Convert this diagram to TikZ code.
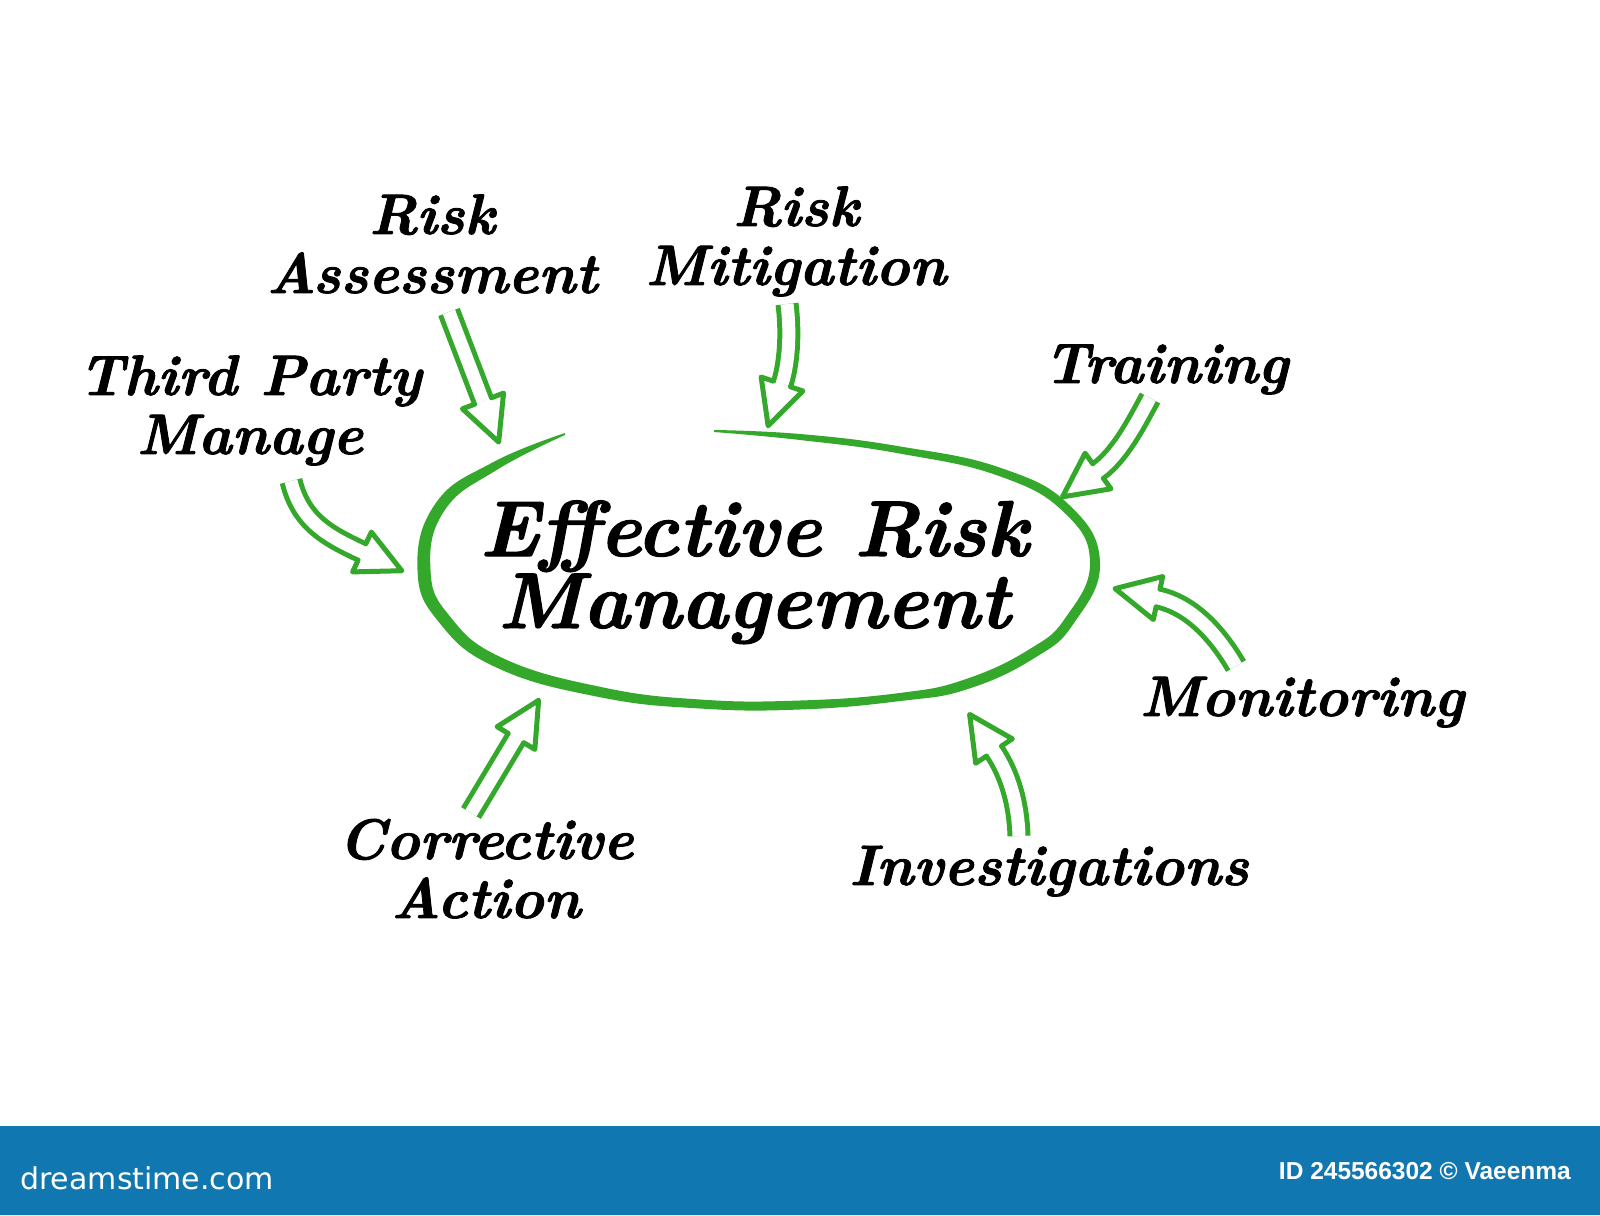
\documentclass[tikz,border=0pt]{standalone}
\usepackage{fontspec}
\usepackage{tikz}
\usetikzlibrary{decorations.markings}
\newfontfamily\handfont{lmroman10-bolditalic.otf}[FakeBold=1.5]
\newfontfamily\brandfont{DejaVu Sans}
\newfontfamily\creditfont{Liberation Sans}
\definecolor{penGreen}{RGB}{52,168,42}
\definecolor{barBlue}{RGB}{17,119,176}
\begin{document}
\begin{tikzpicture}[x=1pt, y=-1pt,
	hollow/.style={preaction={draw=penGreen, line width=5pt, double=white, double distance=13pt},
		decoration={markings, mark=at position 0.9999 with {\draw[penGreen, line width=5pt, fill=white, line join=round, line cap=round] (0pt,9pt) -- (0pt,22pt) -- (44pt,0pt) -- (0pt,-22pt) -- (0pt,-9pt);}},
		postaction={decorate}},
	topic/.style={font=\handfont\fontsize{57}{59}\selectfont, align=center, inner sep=0pt, anchor=base},
	hub/.style={font=\handfont\fontsize{79}{72}\selectfont, align=center, inner sep=0pt, anchor=base}]
	\useasboundingbox (0,0) rectangle (1600,1215);
	\fill[white] (0,0) rectangle (1600,1215);
	\fill[barBlue] (0,1126) rectangle (1600,1215);

	\fill[penGreen] plot[smooth, tension=0.75] coordinates {(714,430) (800,434) (900.5,446.5) (1001,468) (1069.7,505.4) (1100,563) (1074,623) (1035.5,657.4) (968.2,688.9) (900.5,701) (800,709.5) (700,708.5) (599,697) (497.5,668) (440,623.5) (417.5,570) (435.5,503.5) (492.5,462.5) (565,433)}
		-- plot[smooth, tension=0.75] coordinates {(565,435) (497.5,469.5) (444.5,510.5) (430.5,570) (450,616.5) (502.5,658) (601,687) (700,699.5) (800,700.5) (899.5,693) (965.8,679.1) (1030.5,648.6) (1066,617) (1090,563) (1064.3,512.6) (999,476) (899.5,453.5) (800,440) (714,432)} -- cycle;

	\node[hub] (Centre) at (754,628) {Effective Risk\\Management};
	\node[topic] (Assessment) at (432,293) {Risk\\Assessment};
	\node[topic] (Mitigation) at (796,285) {Risk\\Mitigation};
	\node[topic] (ThirdParty) at (250,454) {Third Party\\Manage};
	\node[topic] (Training) at (1166,383) {Training};
	\node[topic] (Monitoring) at (1302,716) {Monitoring};
	\node[topic] (Investigations) at (1049,885) {Investigations};
	\node[topic] (Corrective) at (486,918) {Corrective\\Action};

	\coordinate (AssessmentTail) at (449,312);
	\coordinate (AssessmentHead) at (483,401);
	\coordinate (ThirdPartyTail) at (291,481);
	\coordinate (ThirdPartyHead) at (362,552);
	\coordinate (MitigationTail) at (787,304);
	\coordinate (MitigationHead) at (782,384);
	\coordinate (TrainingTail) at (1150,398);
	\coordinate (TrainingHead) at (1098,471);
	\coordinate (MonitoringTail) at (1236,666);
	\coordinate (MonitoringHead) at (1158,598);
	\coordinate (InvestigationsTail) at (1019,836);
	\coordinate (InvestigationsHead) at (994,751);
	\coordinate (CorrectiveTail) at (471,813);
	\coordinate (CorrectiveHead) at (516,738);

	\path[hollow] (AssessmentTail) -- (AssessmentHead);
	\path[hollow] (ThirdPartyTail) .. controls (301,522) and (328,536) .. (ThirdPartyHead);
	\path[hollow] (MitigationTail) .. controls (791,336) and (788,366) .. (MitigationHead);
	\path[hollow] (TrainingTail) .. controls (1136,424) and (1120,455) .. (TrainingHead);
	\path[hollow] (MonitoringTail) .. controls (1216,632) and (1190,605) .. (MonitoringHead);
	\path[hollow] (InvestigationsTail) .. controls (1018,804) and (1010,775) .. (InvestigationsHead);
	\path[hollow] (CorrectiveTail) -- (CorrectiveHead);

	\node[anchor=base west, inner sep=0pt, text=white, font=\brandfont\fontsize{30}{30}\selectfont] (Brand) at (20,1189) {dreamstime.com};
	\node[anchor=base east, inner sep=0pt, text=white, font=\creditfont\bfseries\fontsize{24.5}{24.5}\selectfont] (Credit) at (1571,1179) {ID 245566302 © Vaeenma};
\end{tikzpicture}
\end{document}
